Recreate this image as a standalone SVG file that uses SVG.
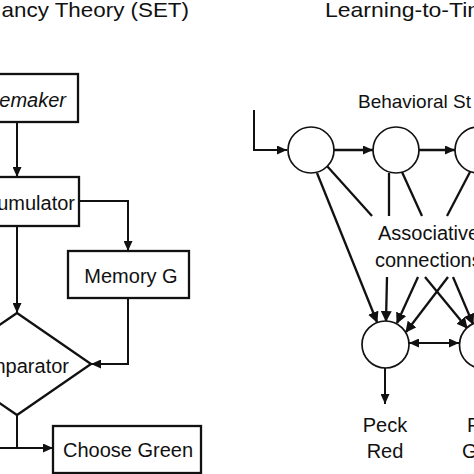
<svg xmlns="http://www.w3.org/2000/svg" width="474" height="474" viewBox="0 0 474 474">
<style>
text{font-family:"Liberation Sans",Arial,Helvetica,sans-serif;fill:#111}
.t{font-size:20px}
.lbl{font-size:20px}
.box{fill:#fff;stroke:#111;stroke-width:2.3}
.st{fill:#fff;stroke:#111;stroke-width:1.7}
.ln{fill:none;stroke:#111;stroke-width:2}
.lr{fill:none;stroke:#111;stroke-width:2.3}
</style>
<defs>
<marker id="ah" markerUnits="userSpaceOnUse" markerWidth="10" markerHeight="9" refX="10" refY="4.5" orient="auto-start-reverse" viewBox="0 0 10 9">
<path d="M0,0 L10,4.5 L0,9 z" fill="#111"/>
</marker>
<marker id="ab" markerUnits="userSpaceOnUse" markerWidth="11" markerHeight="11" refX="10" refY="5.5" orient="auto" viewBox="0 0 11 11">
<path d="M0,0 L11,5.5 L0,11 z" fill="#111"/>
</marker>
</defs>
<rect width="474" height="474" fill="#fff"/>

<text class="t" transform="translate(189,17) scale(1.12,1)" text-anchor="end">ancy Theory (SET)</text>
<text class="t" transform="translate(325,17) scale(1.15,1)">Learning-to-Tim</text>

<g id="connectors">
<line class="ln" x1="17" y1="122" x2="17" y2="177" marker-end="url(#ah)"/>
<polyline class="ln" points="79,201 128,201 128,251" marker-end="url(#ah)"/>
<line class="ln" x1="17" y1="226" x2="17" y2="313" marker-end="url(#ah)"/>
<polyline class="ln" points="128,298 128,364 91,364" marker-end="url(#ah)"/>
<line class="ln" x1="17" y1="415" x2="17" y2="448"/>
<line class="ln" x1="-5" y1="448" x2="53" y2="448" marker-end="url(#ah)"/>

<polyline class="ln" points="254,110 254,150 287,150" marker-end="url(#ah)"/>
<line class="lr" x1="334" y1="150" x2="373" y2="150" marker-end="url(#ah)"/>
<line class="lr" x1="419" y1="150" x2="455" y2="150" marker-end="url(#ah)"/>

<line class="lr" x1="327" y1="166" x2="372" y2="216"/>
<line class="lr" x1="389" y1="173" x2="389" y2="216"/>
<line class="lr" x1="402" y1="172" x2="422" y2="216"/>
<line class="lr" x1="470" y1="172" x2="447" y2="216"/>

<line class="lr" x1="317" y1="173" x2="377" y2="322" marker-end="url(#ab)"/>
<line class="lr" x1="387" y1="277" x2="386" y2="321" marker-end="url(#ab)"/>
<line class="lr" x1="418" y1="277" x2="397" y2="323" marker-end="url(#ab)"/>
<line class="lr" x1="448" y1="277" x2="406" y2="332" marker-end="url(#ab)"/>
<line class="lr" x1="425" y1="277" x2="467" y2="328" marker-end="url(#ab)"/>
<line class="lr" x1="453" y1="277" x2="473" y2="324" marker-end="url(#ab)"/>

<line class="ln" x1="409" y1="343" x2="459" y2="343" marker-start="url(#ah)" marker-end="url(#ah)"/>
<line class="ln" x1="385" y1="368" x2="385" y2="404" marker-end="url(#ah)"/>
</g>

<g id="pacemaker">
<rect class="box" x="-10" y="74" width="88" height="48"/>
<text class="lbl" x="66" y="107" text-anchor="end" font-style="italic">emaker</text>
</g>
<g id="accumulator">
<rect class="box" x="-10" y="177" width="89" height="49"/>
<text class="lbl" x="75" y="210" text-anchor="end">umulator</text>
</g>
<g id="memory-g">
<rect class="box" x="68" y="251" width="121" height="47"/>
<text class="lbl" x="131" y="283" text-anchor="middle">Memory G</text>
</g>
<g id="comparator">
<polygon class="box" points="17,313 91,364 17,415 -57,364"/>
<text class="lbl" x="69" y="373" text-anchor="end">nparator</text>
</g>
<g id="choose-green">
<rect class="box" x="53" y="426" width="148" height="47"/>
<text class="lbl" x="128" y="457" text-anchor="middle">Choose Green</text>
</g>

<g id="behavioral-states-label">
<text class="lbl" x="358" y="108" style="font-size:19px">Behavioral St</text>
</g>
<g id="state-1"><circle class="st" cx="311" cy="150" r="23"/></g>
<g id="state-2"><circle class="st" cx="396" cy="150" r="23"/></g>
<g id="state-3"><circle class="st" cx="478" cy="150" r="23"/></g>

<g id="associative-label">
<text class="lbl" x="378" y="240">Associative</text>
<text class="lbl" x="375" y="267">connections</text>
</g>

<g id="peck-red">
<circle class="st" cx="385.5" cy="344.5" r="23.5"/>
<text class="lbl" x="385" y="432" text-anchor="middle">Peck</text>
<text class="lbl" x="385" y="458" text-anchor="middle">Red</text>
</g>
<g id="peck-green">
<circle class="st" cx="483" cy="345" r="23.5"/>
<text class="lbl" x="467" y="432">Peck</text>
<text class="lbl" x="462" y="458">Green</text>
</g>
</svg>
